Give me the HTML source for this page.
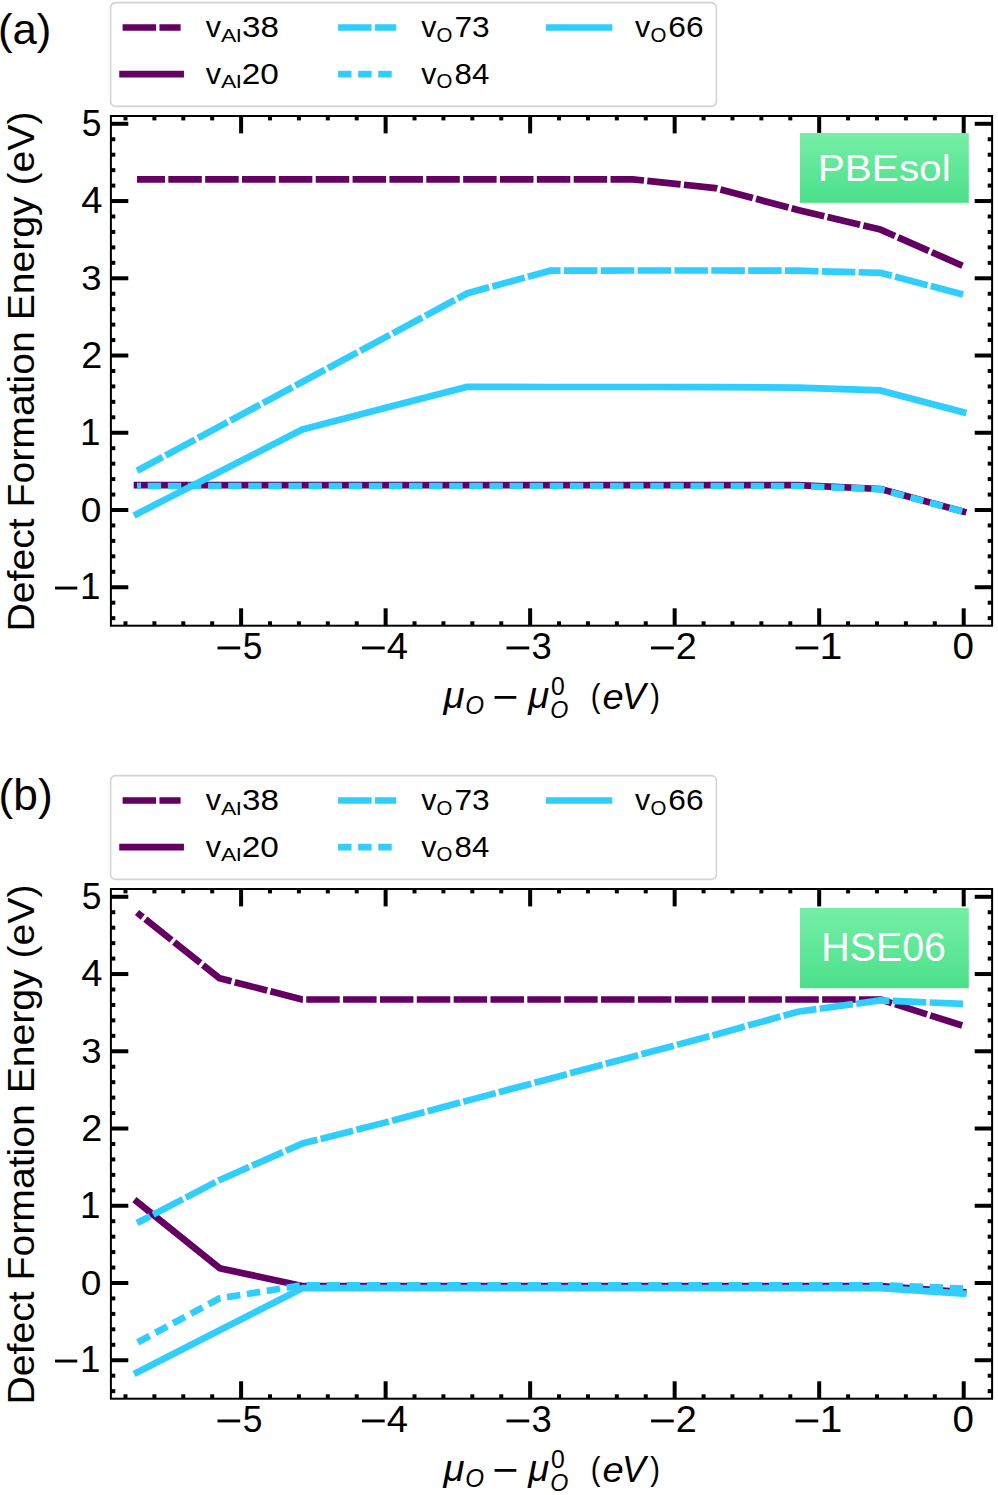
<!DOCTYPE html>
<html><head><meta charset="utf-8"><title>Defect formation energy</title>
<style>
html,body{margin:0;padding:0;background:#fff;}
body{width:998px;height:1495px;overflow:hidden;font-family:"Liberation Sans", sans-serif;}
svg{display:block;position:absolute;left:0;top:0;}
text{font-family:"Liberation Sans", sans-serif;}
</style></head>
<body>
<svg width="998" height="1495" viewBox="0 0 998 1495">
<g fill="#000"><rect x="123.48" y="621.30" width="4" height="4.40"/><rect x="123.48" y="116.00" width="4" height="4.40"/><rect x="152.39" y="621.30" width="4" height="4.40"/><rect x="152.39" y="116.00" width="4" height="4.40"/><rect x="181.29" y="621.30" width="4" height="4.40"/><rect x="181.29" y="116.00" width="4" height="4.40"/><rect x="210.20" y="621.30" width="4" height="4.40"/><rect x="210.20" y="116.00" width="4" height="4.40"/><rect x="239.10" y="608.30" width="4" height="17.40"/><rect x="239.10" y="116.00" width="4" height="17.40"/><rect x="268.00" y="621.30" width="4" height="4.40"/><rect x="268.00" y="116.00" width="4" height="4.40"/><rect x="296.91" y="621.30" width="4" height="4.40"/><rect x="296.91" y="116.00" width="4" height="4.40"/><rect x="325.81" y="621.30" width="4" height="4.40"/><rect x="325.81" y="116.00" width="4" height="4.40"/><rect x="354.72" y="621.30" width="4" height="4.40"/><rect x="354.72" y="116.00" width="4" height="4.40"/><rect x="383.62" y="608.30" width="4" height="17.40"/><rect x="383.62" y="116.00" width="4" height="17.40"/><rect x="412.52" y="621.30" width="4" height="4.40"/><rect x="412.52" y="116.00" width="4" height="4.40"/><rect x="441.43" y="621.30" width="4" height="4.40"/><rect x="441.43" y="116.00" width="4" height="4.40"/><rect x="470.33" y="621.30" width="4" height="4.40"/><rect x="470.33" y="116.00" width="4" height="4.40"/><rect x="499.24" y="621.30" width="4" height="4.40"/><rect x="499.24" y="116.00" width="4" height="4.40"/><rect x="528.14" y="608.30" width="4" height="17.40"/><rect x="528.14" y="116.00" width="4" height="17.40"/><rect x="557.04" y="621.30" width="4" height="4.40"/><rect x="557.04" y="116.00" width="4" height="4.40"/><rect x="585.95" y="621.30" width="4" height="4.40"/><rect x="585.95" y="116.00" width="4" height="4.40"/><rect x="614.85" y="621.30" width="4" height="4.40"/><rect x="614.85" y="116.00" width="4" height="4.40"/><rect x="643.76" y="621.30" width="4" height="4.40"/><rect x="643.76" y="116.00" width="4" height="4.40"/><rect x="672.66" y="608.30" width="4" height="17.40"/><rect x="672.66" y="116.00" width="4" height="17.40"/><rect x="701.56" y="621.30" width="4" height="4.40"/><rect x="701.56" y="116.00" width="4" height="4.40"/><rect x="730.47" y="621.30" width="4" height="4.40"/><rect x="730.47" y="116.00" width="4" height="4.40"/><rect x="759.37" y="621.30" width="4" height="4.40"/><rect x="759.37" y="116.00" width="4" height="4.40"/><rect x="788.28" y="621.30" width="4" height="4.40"/><rect x="788.28" y="116.00" width="4" height="4.40"/><rect x="817.18" y="608.30" width="4" height="17.40"/><rect x="817.18" y="116.00" width="4" height="17.40"/><rect x="846.08" y="621.30" width="4" height="4.40"/><rect x="846.08" y="116.00" width="4" height="4.40"/><rect x="874.99" y="621.30" width="4" height="4.40"/><rect x="874.99" y="116.00" width="4" height="4.40"/><rect x="903.89" y="621.30" width="4" height="4.40"/><rect x="903.89" y="116.00" width="4" height="4.40"/><rect x="932.80" y="621.30" width="4" height="4.40"/><rect x="932.80" y="116.00" width="4" height="4.40"/><rect x="961.70" y="608.30" width="4" height="17.40"/><rect x="961.70" y="116.00" width="4" height="17.40"/><rect x="110.90" y="616.14" width="4.40" height="4"/><rect x="987.70" y="616.14" width="4.40" height="4"/><rect x="110.90" y="600.69" width="4.40" height="4"/><rect x="987.70" y="600.69" width="4.40" height="4"/><rect x="110.90" y="585.24" width="17.40" height="4"/><rect x="974.70" y="585.24" width="17.40" height="4"/><rect x="110.90" y="569.79" width="4.40" height="4"/><rect x="987.70" y="569.79" width="4.40" height="4"/><rect x="110.90" y="554.34" width="4.40" height="4"/><rect x="987.70" y="554.34" width="4.40" height="4"/><rect x="110.90" y="538.90" width="4.40" height="4"/><rect x="987.70" y="538.90" width="4.40" height="4"/><rect x="110.90" y="523.45" width="4.40" height="4"/><rect x="987.70" y="523.45" width="4.40" height="4"/><rect x="110.90" y="508.00" width="17.40" height="4"/><rect x="974.70" y="508.00" width="17.40" height="4"/><rect x="110.90" y="492.55" width="4.40" height="4"/><rect x="987.70" y="492.55" width="4.40" height="4"/><rect x="110.90" y="477.10" width="4.40" height="4"/><rect x="987.70" y="477.10" width="4.40" height="4"/><rect x="110.90" y="461.66" width="4.40" height="4"/><rect x="987.70" y="461.66" width="4.40" height="4"/><rect x="110.90" y="446.21" width="4.40" height="4"/><rect x="987.70" y="446.21" width="4.40" height="4"/><rect x="110.90" y="430.76" width="17.40" height="4"/><rect x="974.70" y="430.76" width="17.40" height="4"/><rect x="110.90" y="415.31" width="4.40" height="4"/><rect x="987.70" y="415.31" width="4.40" height="4"/><rect x="110.90" y="399.86" width="4.40" height="4"/><rect x="987.70" y="399.86" width="4.40" height="4"/><rect x="110.90" y="384.42" width="4.40" height="4"/><rect x="987.70" y="384.42" width="4.40" height="4"/><rect x="110.90" y="368.97" width="4.40" height="4"/><rect x="987.70" y="368.97" width="4.40" height="4"/><rect x="110.90" y="353.52" width="17.40" height="4"/><rect x="974.70" y="353.52" width="17.40" height="4"/><rect x="110.90" y="338.07" width="4.40" height="4"/><rect x="987.70" y="338.07" width="4.40" height="4"/><rect x="110.90" y="322.62" width="4.40" height="4"/><rect x="987.70" y="322.62" width="4.40" height="4"/><rect x="110.90" y="307.18" width="4.40" height="4"/><rect x="987.70" y="307.18" width="4.40" height="4"/><rect x="110.90" y="291.73" width="4.40" height="4"/><rect x="987.70" y="291.73" width="4.40" height="4"/><rect x="110.90" y="276.28" width="17.40" height="4"/><rect x="974.70" y="276.28" width="17.40" height="4"/><rect x="110.90" y="260.83" width="4.40" height="4"/><rect x="987.70" y="260.83" width="4.40" height="4"/><rect x="110.90" y="245.38" width="4.40" height="4"/><rect x="987.70" y="245.38" width="4.40" height="4"/><rect x="110.90" y="229.94" width="4.40" height="4"/><rect x="987.70" y="229.94" width="4.40" height="4"/><rect x="110.90" y="214.49" width="4.40" height="4"/><rect x="987.70" y="214.49" width="4.40" height="4"/><rect x="110.90" y="199.04" width="17.40" height="4"/><rect x="974.70" y="199.04" width="17.40" height="4"/><rect x="110.90" y="183.59" width="4.40" height="4"/><rect x="987.70" y="183.59" width="4.40" height="4"/><rect x="110.90" y="168.14" width="4.40" height="4"/><rect x="987.70" y="168.14" width="4.40" height="4"/><rect x="110.90" y="152.70" width="4.40" height="4"/><rect x="987.70" y="152.70" width="4.40" height="4"/><rect x="110.90" y="137.25" width="4.40" height="4"/><rect x="987.70" y="137.25" width="4.40" height="4"/><rect x="110.90" y="121.80" width="17.40" height="4"/><rect x="974.70" y="121.80" width="17.40" height="4"/><rect x="110.90" y="116.00" width="881.20" height="509.70" fill="none" stroke="#000" stroke-width="2"/></g><g><path d="M963.10 266.00 L880.49 229.60 L797.88 209.90 L715.28 188.10 L632.67 179.30 L550.06 179.30 L467.45 179.30 L384.85 179.30 L302.24 179.30 L219.63 179.30 L137.02 179.30" fill="none" stroke="#630062" stroke-width="6.70" stroke-dasharray="33.5 3.35" stroke-dashoffset="-0.70" stroke-linecap="butt" stroke-linejoin="round"/><path d="M963.10 511.50 L880.49 489.00 L797.88 485.10 L715.28 485.10 L632.67 485.10 L550.06 485.10 L467.45 485.10 L384.85 485.10 L302.24 485.10 L219.63 485.10 L137.02 485.10" fill="none" stroke="#630062" stroke-width="6.70" stroke-linecap="square" stroke-linejoin="round"/><path d="M963.10 294.50 L880.49 272.80 L797.88 270.70 L715.28 270.50 L632.67 270.50 L550.06 270.70 L467.45 293.20 L384.85 337.60 L302.24 382.00 L219.63 426.40 L137.02 470.80" fill="none" stroke="#30cdff" stroke-width="6.70" stroke-dasharray="33.5 3.35" stroke-dashoffset="0.00" stroke-linecap="butt" stroke-linejoin="round"/><path d="M963.10 511.70 L880.49 489.30 L797.88 486.00 L715.28 486.00 L632.67 486.00 L550.06 486.00 L467.45 486.00 L384.85 486.00 L302.24 486.00 L219.63 486.00 L137.02 486.00" fill="none" stroke="#30cdff" stroke-width="6.70" stroke-dasharray="13.4 6.7" stroke-dashoffset="-1.00" stroke-linecap="butt" stroke-linejoin="round"/><path d="M963.10 412.20 L880.49 390.40 L797.88 387.60 L715.28 387.20 L632.67 387.00 L550.06 387.00 L467.45 386.80 L384.85 408.00 L302.24 429.60 L219.63 471.75 L137.02 513.90" fill="none" stroke="#30cdff" stroke-width="6.70" stroke-linecap="square" stroke-linejoin="round"/></g><g fill="#000"><text transform="translate(79.94 599.44) scale(0.9953 1)" style="font-size:36.96px;">1</text><rect x="55" y="586.59" width="22.3" height="2.9"/><text transform="translate(80.82 521.84) scale(1.0325 1)" style="font-size:35.92px;">0</text><text transform="translate(79.94 444.96) scale(0.9953 1)" style="font-size:36.96px;">1</text><text transform="translate(81.31 367.72) scale(1.0377 1)" style="font-size:36.43px;">2</text><text transform="translate(81.34 290.12) scale(1.0141 1)" style="font-size:35.92px;">3</text><text transform="translate(81.24 213.24) scale(1.0341 1)" style="font-size:36.96px;">4</text><text transform="translate(81.79 135.64) scale(0.9709 1)" style="font-size:36.43px;">5</text><text transform="translate(242.79 658.73) scale(0.9671 1)" style="font-size:36.57px;">5</text><rect x="217.50" y="646.50" width="22.7" height="2.9"/><text transform="translate(386.71 659.10) scale(1.0301 1)" style="font-size:37.10px;">4</text><rect x="362.02" y="646.50" width="22.7" height="2.9"/><text transform="translate(531.53 658.74) scale(1.0101 1)" style="font-size:36.06px;">3</text><rect x="506.54" y="646.50" width="22.7" height="2.9"/><text transform="translate(675.67 659.10) scale(1.0337 1)" style="font-size:36.57px;">2</text><rect x="651.06" y="646.50" width="22.7" height="2.9"/><text transform="translate(819.49 659.10) scale(1.1091 1)" style="font-size:37.10px;">1</text><rect x="795.58" y="646.50" width="22.7" height="2.9"/><text transform="translate(952.56 658.93) scale(1.0485 1)" style="font-size:36.76px;">0</text><text transform="translate(34.1 631.43) rotate(-90) scale(1.0510 1)" style="font-size:37.25px">Defect Formation Energy (eV)</text><text transform="translate(443.47 708.14) scale(1.0624 1)" style="font-size:36.11px;font-style:italic;">μ</text><text transform="translate(465.27 714.34) scale(0.9227 1)" style="font-size:26.20px;font-style:italic;">O</text><rect x="494.6" y="696.00" width="21.7" height="2.8"/><text transform="translate(528.36 708.14) scale(1.0573 1)" style="font-size:36.11px;font-style:italic;">μ</text><text transform="translate(551.11 695.04) scale(0.9671 1)" style="font-size:25.63px;">0</text><text transform="translate(550.13 717.56) scale(0.9790 1)" style="font-size:23.66px;font-style:italic;">O</text><text transform="translate(590.86 706.90) scale(0.8849 1)" style="font-size:32.83px;">(</text><text transform="translate(602.56 708.75) scale(1.0927 1)" style="font-size:34.91px;font-style:italic;">e</text><text transform="translate(622.09 708.50) scale(0.9631 1)" style="font-size:36.81px;font-style:italic;">V</text><text transform="translate(650.15 706.90) scale(0.8849 1)" style="font-size:32.83px;">)</text></g><rect x="110.6" y="2.60" width="605.8" height="103.8" rx="5" ry="5" fill="#fff" stroke="#d4d4d4" stroke-width="1.6"/><line x1="122.60" y1="27.50" x2="180.60" y2="27.50" stroke="#630062" stroke-width="6.70" stroke-dasharray="33.5 3.35"/><line x1="122.60" y1="74.10" x2="180.60" y2="74.10" stroke="#630062" stroke-width="6.70" stroke-linecap="square"/><line x1="338.10" y1="27.50" x2="396.20" y2="27.50" stroke="#30cdff" stroke-width="6.70" stroke-dasharray="33.5 3.35"/><line x1="338.10" y1="74.10" x2="396.20" y2="74.10" stroke="#30cdff" stroke-width="6.70" stroke-dasharray="13.4 6.7"/><line x1="549.20" y1="27.50" x2="609.00" y2="27.50" stroke="#30cdff" stroke-width="6.70" stroke-linecap="square"/><g fill="#000"><text transform="translate(205.75 37.10) scale(1.0269 1)" style="font-size:29.81px;">v</text><text transform="translate(220.90 41.70) scale(1.2133 1)" style="font-size:18.90px;">Al</text><text transform="translate(241.97 37.01) scale(1.1389 1)" style="font-size:29.15px;">38</text><text transform="translate(205.75 83.70) scale(1.0269 1)" style="font-size:29.81px;">v</text><text transform="translate(220.90 88.30) scale(1.2133 1)" style="font-size:18.90px;">Al</text><text transform="translate(241.63 83.61) scale(1.1444 1)" style="font-size:29.15px;">20</text><text transform="translate(421.15 37.10) scale(1.0200 1)" style="font-size:29.81px;">v</text><text transform="translate(436.58 41.80) scale(1.0077 1)" style="font-size:20.28px;">O</text><text transform="translate(454.42 37.01) scale(1.0758 1)" style="font-size:29.44px;">73</text><text transform="translate(421.15 83.70) scale(1.0200 1)" style="font-size:29.81px;">v</text><text transform="translate(436.58 88.40) scale(1.0077 1)" style="font-size:20.28px;">O</text><text transform="translate(454.60 83.61) scale(1.0602 1)" style="font-size:29.44px;">84</text><text transform="translate(635.05 37.10) scale(1.0200 1)" style="font-size:29.81px;">v</text><text transform="translate(650.48 41.80) scale(1.0077 1)" style="font-size:20.28px;">O</text><text transform="translate(668.32 37.01) scale(1.0758 1)" style="font-size:29.44px;">66</text></g>
<defs><linearGradient id="g0" x1="0" y1="0" x2="0" y2="1"><stop offset="0" stop-color="#76eea7"/><stop offset="1" stop-color="#4be08b"/></linearGradient></defs><rect x="800" y="133.00" width="168.8" height="69.80" fill="url(#g0)"/><text transform="translate(817.86 181.13) scale(1.0867 1)" style="font-size:37.28px;fill:#fff;">PBEsol</text>
<g fill="#000"><rect x="123.48" y="1394.30" width="4" height="4.40"/><rect x="123.48" y="889.00" width="4" height="4.40"/><rect x="152.39" y="1394.30" width="4" height="4.40"/><rect x="152.39" y="889.00" width="4" height="4.40"/><rect x="181.29" y="1394.30" width="4" height="4.40"/><rect x="181.29" y="889.00" width="4" height="4.40"/><rect x="210.20" y="1394.30" width="4" height="4.40"/><rect x="210.20" y="889.00" width="4" height="4.40"/><rect x="239.10" y="1381.30" width="4" height="17.40"/><rect x="239.10" y="889.00" width="4" height="17.40"/><rect x="268.00" y="1394.30" width="4" height="4.40"/><rect x="268.00" y="889.00" width="4" height="4.40"/><rect x="296.91" y="1394.30" width="4" height="4.40"/><rect x="296.91" y="889.00" width="4" height="4.40"/><rect x="325.81" y="1394.30" width="4" height="4.40"/><rect x="325.81" y="889.00" width="4" height="4.40"/><rect x="354.72" y="1394.30" width="4" height="4.40"/><rect x="354.72" y="889.00" width="4" height="4.40"/><rect x="383.62" y="1381.30" width="4" height="17.40"/><rect x="383.62" y="889.00" width="4" height="17.40"/><rect x="412.52" y="1394.30" width="4" height="4.40"/><rect x="412.52" y="889.00" width="4" height="4.40"/><rect x="441.43" y="1394.30" width="4" height="4.40"/><rect x="441.43" y="889.00" width="4" height="4.40"/><rect x="470.33" y="1394.30" width="4" height="4.40"/><rect x="470.33" y="889.00" width="4" height="4.40"/><rect x="499.24" y="1394.30" width="4" height="4.40"/><rect x="499.24" y="889.00" width="4" height="4.40"/><rect x="528.14" y="1381.30" width="4" height="17.40"/><rect x="528.14" y="889.00" width="4" height="17.40"/><rect x="557.04" y="1394.30" width="4" height="4.40"/><rect x="557.04" y="889.00" width="4" height="4.40"/><rect x="585.95" y="1394.30" width="4" height="4.40"/><rect x="585.95" y="889.00" width="4" height="4.40"/><rect x="614.85" y="1394.30" width="4" height="4.40"/><rect x="614.85" y="889.00" width="4" height="4.40"/><rect x="643.76" y="1394.30" width="4" height="4.40"/><rect x="643.76" y="889.00" width="4" height="4.40"/><rect x="672.66" y="1381.30" width="4" height="17.40"/><rect x="672.66" y="889.00" width="4" height="17.40"/><rect x="701.56" y="1394.30" width="4" height="4.40"/><rect x="701.56" y="889.00" width="4" height="4.40"/><rect x="730.47" y="1394.30" width="4" height="4.40"/><rect x="730.47" y="889.00" width="4" height="4.40"/><rect x="759.37" y="1394.30" width="4" height="4.40"/><rect x="759.37" y="889.00" width="4" height="4.40"/><rect x="788.28" y="1394.30" width="4" height="4.40"/><rect x="788.28" y="889.00" width="4" height="4.40"/><rect x="817.18" y="1381.30" width="4" height="17.40"/><rect x="817.18" y="889.00" width="4" height="17.40"/><rect x="846.08" y="1394.30" width="4" height="4.40"/><rect x="846.08" y="889.00" width="4" height="4.40"/><rect x="874.99" y="1394.30" width="4" height="4.40"/><rect x="874.99" y="889.00" width="4" height="4.40"/><rect x="903.89" y="1394.30" width="4" height="4.40"/><rect x="903.89" y="889.00" width="4" height="4.40"/><rect x="932.80" y="1394.30" width="4" height="4.40"/><rect x="932.80" y="889.00" width="4" height="4.40"/><rect x="961.70" y="1381.30" width="4" height="17.40"/><rect x="961.70" y="889.00" width="4" height="17.40"/><rect x="110.90" y="1389.14" width="4.40" height="4"/><rect x="987.70" y="1389.14" width="4.40" height="4"/><rect x="110.90" y="1373.69" width="4.40" height="4"/><rect x="987.70" y="1373.69" width="4.40" height="4"/><rect x="110.90" y="1358.24" width="17.40" height="4"/><rect x="974.70" y="1358.24" width="17.40" height="4"/><rect x="110.90" y="1342.79" width="4.40" height="4"/><rect x="987.70" y="1342.79" width="4.40" height="4"/><rect x="110.90" y="1327.34" width="4.40" height="4"/><rect x="987.70" y="1327.34" width="4.40" height="4"/><rect x="110.90" y="1311.90" width="4.40" height="4"/><rect x="987.70" y="1311.90" width="4.40" height="4"/><rect x="110.90" y="1296.45" width="4.40" height="4"/><rect x="987.70" y="1296.45" width="4.40" height="4"/><rect x="110.90" y="1281.00" width="17.40" height="4"/><rect x="974.70" y="1281.00" width="17.40" height="4"/><rect x="110.90" y="1265.55" width="4.40" height="4"/><rect x="987.70" y="1265.55" width="4.40" height="4"/><rect x="110.90" y="1250.10" width="4.40" height="4"/><rect x="987.70" y="1250.10" width="4.40" height="4"/><rect x="110.90" y="1234.66" width="4.40" height="4"/><rect x="987.70" y="1234.66" width="4.40" height="4"/><rect x="110.90" y="1219.21" width="4.40" height="4"/><rect x="987.70" y="1219.21" width="4.40" height="4"/><rect x="110.90" y="1203.76" width="17.40" height="4"/><rect x="974.70" y="1203.76" width="17.40" height="4"/><rect x="110.90" y="1188.31" width="4.40" height="4"/><rect x="987.70" y="1188.31" width="4.40" height="4"/><rect x="110.90" y="1172.86" width="4.40" height="4"/><rect x="987.70" y="1172.86" width="4.40" height="4"/><rect x="110.90" y="1157.42" width="4.40" height="4"/><rect x="987.70" y="1157.42" width="4.40" height="4"/><rect x="110.90" y="1141.97" width="4.40" height="4"/><rect x="987.70" y="1141.97" width="4.40" height="4"/><rect x="110.90" y="1126.52" width="17.40" height="4"/><rect x="974.70" y="1126.52" width="17.40" height="4"/><rect x="110.90" y="1111.07" width="4.40" height="4"/><rect x="987.70" y="1111.07" width="4.40" height="4"/><rect x="110.90" y="1095.62" width="4.40" height="4"/><rect x="987.70" y="1095.62" width="4.40" height="4"/><rect x="110.90" y="1080.18" width="4.40" height="4"/><rect x="987.70" y="1080.18" width="4.40" height="4"/><rect x="110.90" y="1064.73" width="4.40" height="4"/><rect x="987.70" y="1064.73" width="4.40" height="4"/><rect x="110.90" y="1049.28" width="17.40" height="4"/><rect x="974.70" y="1049.28" width="17.40" height="4"/><rect x="110.90" y="1033.83" width="4.40" height="4"/><rect x="987.70" y="1033.83" width="4.40" height="4"/><rect x="110.90" y="1018.38" width="4.40" height="4"/><rect x="987.70" y="1018.38" width="4.40" height="4"/><rect x="110.90" y="1002.94" width="4.40" height="4"/><rect x="987.70" y="1002.94" width="4.40" height="4"/><rect x="110.90" y="987.49" width="4.40" height="4"/><rect x="987.70" y="987.49" width="4.40" height="4"/><rect x="110.90" y="972.04" width="17.40" height="4"/><rect x="974.70" y="972.04" width="17.40" height="4"/><rect x="110.90" y="956.59" width="4.40" height="4"/><rect x="987.70" y="956.59" width="4.40" height="4"/><rect x="110.90" y="941.14" width="4.40" height="4"/><rect x="987.70" y="941.14" width="4.40" height="4"/><rect x="110.90" y="925.70" width="4.40" height="4"/><rect x="987.70" y="925.70" width="4.40" height="4"/><rect x="110.90" y="910.25" width="4.40" height="4"/><rect x="987.70" y="910.25" width="4.40" height="4"/><rect x="110.90" y="894.80" width="17.40" height="4"/><rect x="974.70" y="894.80" width="17.40" height="4"/><rect x="110.90" y="889.00" width="881.20" height="509.70" fill="none" stroke="#000" stroke-width="2"/></g><g><path d="M963.10 1025.80 L880.49 999.50 L797.88 999.50 L715.28 999.50 L632.67 999.50 L550.06 999.50 L467.45 999.50 L384.85 999.50 L302.24 999.50 L219.63 978.30 L137.02 912.50" fill="none" stroke="#630062" stroke-width="6.70" stroke-dasharray="33.5 3.35" stroke-dashoffset="-1.00" stroke-linecap="butt" stroke-linejoin="round"/><path d="M963.10 1292.00 L880.49 1286.00 L797.88 1286.00 L715.28 1286.00 L632.67 1286.00 L550.06 1286.00 L467.45 1286.00 L384.85 1286.00 L302.24 1286.00 L219.63 1268.20 L137.02 1201.80" fill="none" stroke="#630062" stroke-width="6.70" stroke-linecap="square" stroke-linejoin="round"/><path d="M963.10 1003.90 L880.49 1000.40 L797.88 1011.70 L715.28 1034.68 L632.67 1056.67 L550.06 1078.65 L467.45 1100.63 L384.85 1122.62 L302.24 1143.60 L219.63 1180.00 L137.02 1223.00" fill="none" stroke="#30cdff" stroke-width="6.70" stroke-dasharray="33.5 3.35" stroke-dashoffset="0.00" stroke-linecap="butt" stroke-linejoin="round"/><path d="M963.10 1288.50 L880.49 1285.30 L797.88 1285.30 L715.28 1285.30 L632.67 1285.30 L550.06 1285.30 L467.45 1285.30 L384.85 1285.30 L302.24 1285.30 L219.63 1298.30 L137.02 1342.70" fill="none" stroke="#30cdff" stroke-width="6.70" stroke-dasharray="13.4 6.7" stroke-dashoffset="0.00" stroke-linecap="butt" stroke-linejoin="round"/><path d="M963.10 1293.60 L880.49 1288.20 L797.88 1288.20 L715.28 1288.20 L632.67 1288.20 L550.06 1288.20 L467.45 1288.20 L384.85 1288.20 L302.24 1288.20 L219.63 1330.20 L137.02 1372.50" fill="none" stroke="#30cdff" stroke-width="6.70" stroke-linecap="square" stroke-linejoin="round"/></g><g fill="#000"><text transform="translate(79.94 1372.44) scale(0.9953 1)" style="font-size:36.96px;">1</text><rect x="55" y="1359.59" width="22.3" height="2.9"/><text transform="translate(80.82 1294.84) scale(1.0325 1)" style="font-size:35.92px;">0</text><text transform="translate(79.94 1217.96) scale(0.9953 1)" style="font-size:36.96px;">1</text><text transform="translate(81.31 1140.72) scale(1.0377 1)" style="font-size:36.43px;">2</text><text transform="translate(81.34 1063.12) scale(1.0141 1)" style="font-size:35.92px;">3</text><text transform="translate(81.24 986.24) scale(1.0341 1)" style="font-size:36.96px;">4</text><text transform="translate(81.79 908.64) scale(0.9709 1)" style="font-size:36.43px;">5</text><text transform="translate(242.79 1431.73) scale(0.9671 1)" style="font-size:36.57px;">5</text><rect x="217.50" y="1419.50" width="22.7" height="2.9"/><text transform="translate(386.71 1432.10) scale(1.0301 1)" style="font-size:37.10px;">4</text><rect x="362.02" y="1419.50" width="22.7" height="2.9"/><text transform="translate(531.53 1431.74) scale(1.0101 1)" style="font-size:36.06px;">3</text><rect x="506.54" y="1419.50" width="22.7" height="2.9"/><text transform="translate(675.67 1432.10) scale(1.0337 1)" style="font-size:36.57px;">2</text><rect x="651.06" y="1419.50" width="22.7" height="2.9"/><text transform="translate(819.49 1432.10) scale(1.1091 1)" style="font-size:37.10px;">1</text><rect x="795.58" y="1419.50" width="22.7" height="2.9"/><text transform="translate(952.56 1431.93) scale(1.0485 1)" style="font-size:36.76px;">0</text><text transform="translate(34.1 1404.43) rotate(-90) scale(1.0510 1)" style="font-size:37.25px">Defect Formation Energy (eV)</text><text transform="translate(443.47 1481.14) scale(1.0624 1)" style="font-size:36.11px;font-style:italic;">μ</text><text transform="translate(465.27 1487.34) scale(0.9227 1)" style="font-size:26.20px;font-style:italic;">O</text><rect x="494.6" y="1469.00" width="21.7" height="2.8"/><text transform="translate(528.36 1481.14) scale(1.0573 1)" style="font-size:36.11px;font-style:italic;">μ</text><text transform="translate(551.11 1468.04) scale(0.9671 1)" style="font-size:25.63px;">0</text><text transform="translate(550.13 1490.56) scale(0.9790 1)" style="font-size:23.66px;font-style:italic;">O</text><text transform="translate(590.86 1479.90) scale(0.8849 1)" style="font-size:32.83px;">(</text><text transform="translate(602.56 1481.75) scale(1.0927 1)" style="font-size:34.91px;font-style:italic;">e</text><text transform="translate(622.09 1481.50) scale(0.9631 1)" style="font-size:36.81px;font-style:italic;">V</text><text transform="translate(650.15 1479.90) scale(0.8849 1)" style="font-size:32.83px;">)</text></g><rect x="110.6" y="775.60" width="605.8" height="103.8" rx="5" ry="5" fill="#fff" stroke="#d4d4d4" stroke-width="1.6"/><line x1="122.60" y1="800.50" x2="180.60" y2="800.50" stroke="#630062" stroke-width="6.70" stroke-dasharray="33.5 3.35"/><line x1="122.60" y1="847.10" x2="180.60" y2="847.10" stroke="#630062" stroke-width="6.70" stroke-linecap="square"/><line x1="338.10" y1="800.50" x2="396.20" y2="800.50" stroke="#30cdff" stroke-width="6.70" stroke-dasharray="33.5 3.35"/><line x1="338.10" y1="847.10" x2="396.20" y2="847.10" stroke="#30cdff" stroke-width="6.70" stroke-dasharray="13.4 6.7"/><line x1="549.20" y1="800.50" x2="609.00" y2="800.50" stroke="#30cdff" stroke-width="6.70" stroke-linecap="square"/><g fill="#000"><text transform="translate(205.75 810.10) scale(1.0269 1)" style="font-size:29.81px;">v</text><text transform="translate(220.90 814.70) scale(1.2133 1)" style="font-size:18.90px;">Al</text><text transform="translate(241.97 810.01) scale(1.1389 1)" style="font-size:29.15px;">38</text><text transform="translate(205.75 856.70) scale(1.0269 1)" style="font-size:29.81px;">v</text><text transform="translate(220.90 861.30) scale(1.2133 1)" style="font-size:18.90px;">Al</text><text transform="translate(241.63 856.61) scale(1.1444 1)" style="font-size:29.15px;">20</text><text transform="translate(421.15 810.10) scale(1.0200 1)" style="font-size:29.81px;">v</text><text transform="translate(436.58 814.80) scale(1.0077 1)" style="font-size:20.28px;">O</text><text transform="translate(454.42 810.01) scale(1.0758 1)" style="font-size:29.44px;">73</text><text transform="translate(421.15 856.70) scale(1.0200 1)" style="font-size:29.81px;">v</text><text transform="translate(436.58 861.40) scale(1.0077 1)" style="font-size:20.28px;">O</text><text transform="translate(454.60 856.61) scale(1.0602 1)" style="font-size:29.44px;">84</text><text transform="translate(635.05 810.10) scale(1.0200 1)" style="font-size:29.81px;">v</text><text transform="translate(650.48 814.80) scale(1.0077 1)" style="font-size:20.28px;">O</text><text transform="translate(668.32 810.01) scale(1.0758 1)" style="font-size:29.44px;">66</text></g>
<defs><linearGradient id="g773" x1="0" y1="0" x2="0" y2="1"><stop offset="0" stop-color="#76eea7"/><stop offset="1" stop-color="#4be08b"/></linearGradient></defs><rect x="800" y="908.00" width="168.8" height="80.20" fill="url(#g773)"/><text transform="translate(821.35 961.30) scale(0.9767 1)" style="font-size:40.28px;fill:#fff;">HSE06</text>
<g fill="#000"><text transform="translate(-2.02 43.78) scale(1.0070 1)" style="font-size:43.42px;">(a)</text></g>
<g fill="#000"><text transform="translate(-1.46 810.31) scale(1.0121 1)" style="font-size:43.74px;">(b)</text></g>
</svg>
</body></html>
